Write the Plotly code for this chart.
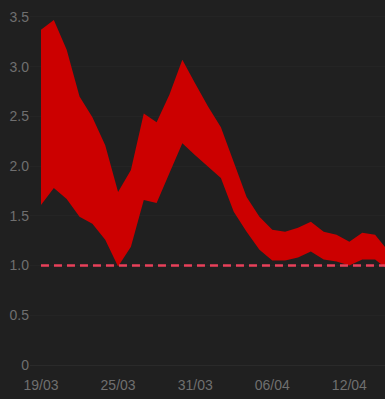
import plotly.graph_objects as go
import pandas as pd

dates = pd.date_range("2020-03-19", periods=28, freq="D")
upper = [3.37, 3.47, 3.17, 2.70, 2.49, 2.21, 1.74, 1.96, 2.53, 2.44, 2.72, 3.07, 2.83, 2.60,
         2.39, 2.04, 1.69, 1.49, 1.36, 1.34, 1.38, 1.44, 1.34, 1.31, 1.24, 1.33, 1.31, 1.15]
lower = [1.61, 1.78, 1.67, 1.49, 1.42, 1.26, 0.99, 1.19, 1.66, 1.63, 1.93, 2.23, 2.11, 1.99,
         1.88, 1.54, 1.34, 1.16, 1.05, 1.05, 1.08, 1.14, 1.06, 1.04, 1.00, 1.06, 1.06, 0.96]
threshold = [1.0] * len(dates)
ytick_vals = [0, 0.5, 1.0, 1.5, 2.0, 2.5, 3.0, 3.5]
ytick_text = ["0", "0.5", "1.0", "1.5", "2.0", "2.5", "3.0", "3.5"]
xtick_vals = ["2020-03-19", "2020-03-25", "2020-03-31", "2020-04-06", "2020-04-12"]
xtick_text = ["19/03", "25/03", "31/03", "06/04", "12/04"]

fig = go.Figure()
fig.add_trace(go.Scatter(x=dates, y=lower, mode="lines", line=dict(width=0, color="#cc0000"),
                         hoverinfo="skip", showlegend=False))
fig.add_trace(go.Scatter(x=dates, y=upper, mode="lines", line=dict(width=0, color="#cc0000"),
                         fill="tonexty", fillcolor="#cc0000", hoverinfo="skip", showlegend=False))
fig.add_trace(go.Scatter(x=dates, y=threshold, mode="lines",
                         line=dict(width=2.5, color="#e8405a", dash="8px,5px"),
                         hoverinfo="skip", showlegend=False))

fig.update_layout(
    width=385, height=399,
    margin=dict(l=30, r=0, t=0, b=34),
    paper_bgcolor="#202020", plot_bgcolor="#202020",
    font=dict(family="Liberation Sans, Arial, sans-serif", size=14, color="#6f6f6f"),
    xaxis=dict(range=["2020-03-18 03:30", "2020-04-14 18:30"], tickvals=xtick_vals,
               ticktext=xtick_text, showgrid=False, zeroline=False, showline=False,
               ticks="", ticklabelstandoff=10, tickfont=dict(size=14, color="#6f6f6f")),
    yaxis=dict(range=[0, 3.67], tickvals=ytick_vals, ticktext=ytick_text,
               showgrid=True, gridcolor="#242424", gridwidth=1,
               zeroline=True, zerolinecolor="#2a2a2a", zerolinewidth=1,
               showline=False, ticks="", tickfont=dict(size=14, color="#6f6f6f")),
)

fig.write_html("out.html")
